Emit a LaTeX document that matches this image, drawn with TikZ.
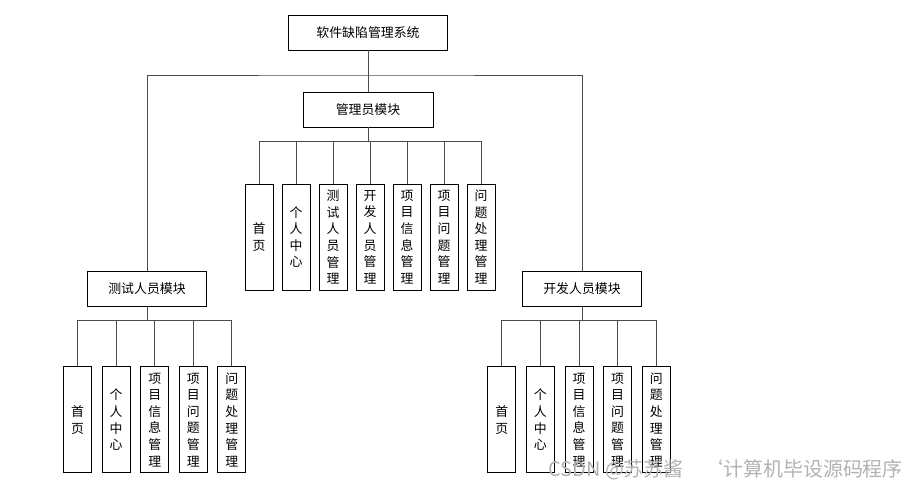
\documentclass[tikz,border=0pt]{standalone}
\usepackage{fontspec}
\newfontfamily\cjk{Noto Sans CJK SC}
\tikzset{
  modbox/.style={draw,line width=0.7pt,font=\cjk\fontsize{11}{14}\selectfont,minimum height=1.05cm,inner sep=0pt},
  leafbox/.style={draw,line width=0.7pt,font=\cjk\fontsize{11}{14.2}\selectfont,align=center,minimum width=0.84cm,minimum height=3.18cm,inner sep=0pt},
  link/.style={draw=black!70,line width=0.7pt},
}
\begin{document}
\begin{tikzpicture}[x=0.03cm,y=-0.03cm]
\useasboundingbox (0,0) rectangle (917,490);
% system and the three modules
\node[modbox,minimum width=4.77cm] (sys) at (368,32.5) {软件缺陷管理系统};
\node[modbox,minimum width=3.9cm] (admin) at (368,109.5) {管理员模块};
\node[modbox,minimum width=3.57cm] (tester) at (147,289) {测试人员模块};
\node[modbox,minimum width=3.57cm] (dev) at (582,289) {开发人员模块};
\coordinate (split) at (368,75);
\draw[link] (sys) -- (admin);
\draw[link] (tester.north) |- (split) -| (dev.north);

% admin functions
\foreach \t [count=\i] in {{首\\页},{个\\人\\中\\心},{测\\试\\人\\员\\管\\理},{开\\发\\人\\员\\管\\理},{项\\目\\信\\息\\管\\理},{项\\目\\问\\题\\管\\理},{问\\题\\处\\理\\管\\理}} {
  \node[leafbox] (a\i) at ({259+37*(\i-1)},237) {\t};
  \draw[link] (admin.south) -- ++(0,14) -| (a\i.north);
}

% tester and developer functions
\foreach \t [count=\i] in {{首\\页},{个\\人\\中\\心},{项\\目\\信\\息\\管\\理},{项\\目\\问\\题\\管\\理},{问\\题\\处\\理\\管\\理}} {
  \node[leafbox] (t\i) at ({77.5+38.6*(\i-1)},419.8) {\t};
  \draw[link] (tester.south) -- ++(0,13.5) -| (t\i.north);
  \node[leafbox] (d\i) at ({501.7+38.65*(\i-1)},419.8) {\t};
  \draw[link] (dev.south) -- ++(0,13.5) -| (d\i.north);
}

\node[anchor=east,text=black!30,font=\cjk\fontsize{17}{19}\selectfont,inner sep=0pt] (mark) at (903,470) {CSDN @苏苏酱\quad ‘计算机毕设源码程序};
\end{tikzpicture}
\end{document}
